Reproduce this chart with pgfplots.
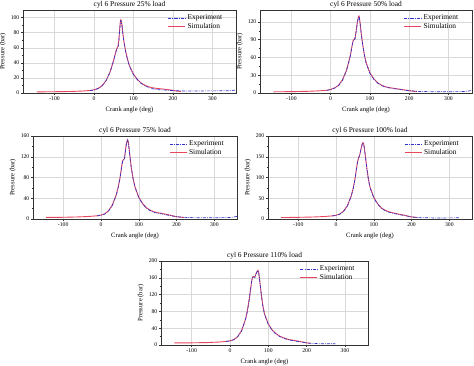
\documentclass[border=0pt]{standalone}
\usepackage{pgfplots}
\pgfplotsset{compat=1.18}
\usepackage{fontspec}
\setmainfont{Liberation Serif}
\definecolor{simred}{RGB}{232,72,95}
\definecolor{expblue}{RGB}{50,50,200}
\pgfplotsset{
  cylax/.style={
    scale only axis,
    anchor=north west,
    xmin=-180, xmax=360, ymin=0,
    xtick={-100,0,100,200,300},
    minor x tick num=1, minor y tick num=1,
    grid=major,
    major grid style={gray!30, line width=0.4pt},
    axis line style={black!80, line width=0.5pt},
    tick align=outside, tick pos=left,
    major tick length=2pt, minor tick length=1.2pt,
    tick style={black!80, line width=0.4pt},
    /pgf/number format/assume math mode=true,
    ticklabel style={font=\fontsize{5.7}{6}\selectfont, inner sep=1.5pt},
    label style={font=\fontsize{6.6}{7}\selectfont},
    title style={font=\fontsize{7.4}{8}\selectfont, inner sep=1pt, yshift=-5pt},
    xlabel={Crank angle (deg)},
    ylabel={Pressure (bar)},
    xlabel style={yshift=-1pt},
    ylabel style={yshift=0pt},
    legend style={draw=none, fill=none, font=\fontsize{7.4}{8}\selectfont,
      at={(0.95,0.98)}, anchor=north east, row sep=-2pt, inner sep=1pt},
    legend cell align=left,
  },
  expst/.style={color=expblue, line width=0.7pt, dash pattern=on 3pt off 1.2pt on 0.8pt off 1.2pt},
  simst/.style={color=simred, line width=0.9pt},
}
\begin{document}
\begin{tikzpicture}
\useasboundingbox (0pt,0pt) rectangle (474pt,-366pt);
% ---------------- 25% ----------------
\begin{axis}[cylax, at={(23pt,-10pt)}, width=213pt, height=83pt,
  ymax=110, ytick={0,20,40,60,80,100},
  title={cyl 6 Pressure 25\% load}]
\addlegendimage{color=expblue, line width=0.7pt, dash pattern=on 3pt off 1.2pt on 0.8pt off 1.2pt}\addlegendentry{Experiment}
\addlegendimage{color=simred, line width=0.9pt}\addlegendentry{Simulation}
\addplot[simst, forget plot] coordinates {
(-145,1.5) (-100,1.7) (-60,2.0) (-30,2.6) (-10,3.3) (0,4.2) (10,6) (20,9.5) (30,16) (40,27) (45,35) (50,44) (55,54) (58,59) (61,62) (63,70) (65,84) (67,95) (68,97) (69,96) (71,90) (73,80) (76,68) (80,56) (85,45) (90,36) (100,25) (110,18) (120,13) (130,10) (140,8) (150,6.8) (160,6) (170,5.5) (180,5) (190,4.3) (200,3.5) (210,2.6) (220,2)};
\addplot[expst, forget plot] coordinates {
(-10,3.2) (0,4.0) (10,5.8) (20,9.2) (30,15.5) (40,26.5) (45,34.5) (50,43.5) (55,53.5) (58,58.5) (61,61.5) (63,69) (65,83) (67,94) (68,96) (69,95) (71,89) (73,79) (76,67) (80,55) (85,44) (90,35) (100,24.5) (110,17.5) (120,12.5) (130,9.5) (140,7) (150,5.5) (160,4.5) (180,3.8) (200,3.2) (220,2.8) (240,2.7) (260,2.7) (280,2.8) (300,2.8) (320,2.9) (340,3.0) (355,3.6) (360,4)};
\end{axis}
% ---------------- 50% ----------------
\begin{axis}[cylax, at={(260pt,-10pt)}, width=212pt, height=83pt,
  ymax=140, ytick={0,30,60,90,120},
  title={cyl 6 Pressure 50\% load}]
\addlegendimage{color=expblue, line width=0.7pt, dash pattern=on 3pt off 1.2pt on 0.8pt off 1.2pt}\addlegendentry{Experiment}
\addlegendimage{color=simred, line width=0.9pt}\addlegendentry{Simulation}
\addplot[simst, forget plot] coordinates {
(-145,2) (-100,2.3) (-60,2.8) (-30,3.6) (-10,4.6) (0,6) (10,8.5) (20,13) (30,22) (40,38) (45,50) (50,63) (54,78) (57,88) (60,91) (62,92) (65,105) (68,120) (71,129) (72,130) (73,128) (75,118) (78,100) (82,80) (86,64) (90,52) (100,34) (110,24) (120,17) (130,13) (140,10.5) (150,9) (160,8) (170,7) (180,6) (190,5) (200,4) (210,3) (220,2.5)};
\addplot[expst, forget plot] coordinates {
(-10,4.5) (0,5.8) (10,8.2) (20,12.5) (30,21.5) (40,37) (45,49) (50,62) (54,77) (57,87) (60,90) (62,91) (65,104) (68,119) (71,128) (72,129) (73,127) (75,117) (78,99) (82,79) (86,63) (90,51) (100,33) (110,23) (120,16.5) (130,12.5) (140,10) (150,8.5) (160,7.5) (170,6.5) (180,5.5) (200,3.8) (220,2.8) (240,2.4) (260,2.2) (280,2.2) (300,2.2) (320,2.3) (340,2.5) (350,3.2) (360,4.5)};
\end{axis}
% ---------------- 75% ----------------
\begin{axis}[cylax, at={(33pt,-136pt)}, width=204pt, height=83pt,
  ymax=160, ytick={0,40,80,120,160},
  title={cyl 6 Pressure 75\% load}]
\addlegendimage{color=expblue, line width=0.7pt, dash pattern=on 3pt off 1.2pt on 0.8pt off 1.2pt}\addlegendentry{Experiment}
\addlegendimage{color=simred, line width=0.9pt}\addlegendentry{Simulation}
\addplot[simst, forget plot] coordinates {
(-145,3) (-100,3.3) (-60,4) (-30,5) (-10,6.2) (0,7.5) (10,10) (20,16) (30,27) (40,46) (45,60) (50,78) (54,98) (57,112) (60,115) (62,116) (64,128) (67,145) (70,153) (71,152) (73,145) (76,125) (80,100) (85,78) (90,62) (100,42) (110,30) (120,22) (130,17) (140,14) (150,12) (160,11) (170,9.5) (180,8) (190,6) (200,4.5) (210,3.5) (220,3)};
\addplot[expst, forget plot] coordinates {
(-10,6) (0,7.2) (10,9.6) (20,15.5) (30,26) (40,45) (45,59) (50,77) (54,97) (57,111) (60,114) (62,115) (64,127) (67,144) (70,152) (71,151) (73,144) (76,124) (80,99) (85,77) (90,61) (100,41) (110,29) (120,21) (130,16) (140,13) (150,11) (160,10) (170,8.5) (180,7) (200,4.5) (220,3.2) (240,2.7) (260,2.5) (280,2.5) (300,2.5) (320,2.6) (340,2.9) (350,3.8) (360,5)};
\end{axis}
% ---------------- 100% ----------------
\begin{axis}[cylax, at={(268pt,-136pt)}, width=204pt, height=83pt,
  ymax=200, ytick={0,50,100,150,200},
  title={cyl 6 Pressure 100\% load}]
\addlegendimage{color=expblue, line width=0.7pt, dash pattern=on 3pt off 1.2pt on 0.8pt off 1.2pt}\addlegendentry{Experiment}
\addlegendimage{color=simred, line width=0.9pt}\addlegendentry{Simulation}
\addplot[simst, forget plot] coordinates {
(-145,3.5) (-100,4) (-60,4.8) (-30,6) (-10,7.5) (0,9) (10,12) (20,19) (30,32) (40,55) (45,72) (50,95) (54,120) (57,138) (60,148) (63,155) (66,168) (69,180) (71,184) (73,182) (75,172) (78,150) (82,120) (86,95) (90,77) (100,52) (110,37) (120,27) (130,21) (140,17.5) (150,15) (160,13) (170,11) (180,9.5) (190,7) (200,5) (210,4) (215,3.5)};
\addplot[expst, forget plot] coordinates {
(-10,7.3) (0,8.7) (10,11.5) (20,18.5) (30,31) (40,54) (45,71) (50,94) (54,119) (57,137) (60,147) (63,154) (66,167) (69,179) (71,183) (73,181) (75,171) (78,149) (82,119) (86,94) (90,76) (100,51) (110,36) (120,26) (130,20) (140,16.5) (150,14) (160,12) (170,10) (180,8.5) (200,5) (220,3.3) (240,2.8) (260,2.6) (280,2.6) (300,2.7) (320,2.8) (325,3)};
\end{axis}
% ---------------- 110% ----------------
\begin{axis}[cylax, at={(161pt,-261pt)}, width=207pt, height=84pt,
  ymax=200, ytick={0,40,80,120,160,200},
  title={cyl 6 Pressure 110\% load}]
\addlegendimage{color=expblue, line width=0.7pt, dash pattern=on 3pt off 1.2pt on 0.8pt off 1.2pt}\addlegendentry{Experiment}
\addlegendimage{color=simred, line width=0.9pt}\addlegendentry{Simulation}
\addplot[simst, forget plot] coordinates {
(-145,5) (-100,5.2) (-60,5.8) (-30,7) (-10,8.5) (0,10) (10,13) (20,20) (30,34) (40,60) (45,80) (50,108) (54,135) (57,155) (59,162) (62,163) (65,162) (68,170) (71,176) (73,178) (75,172) (78,150) (82,118) (86,92) (90,74) (100,50) (110,36) (120,27) (130,21) (140,17) (150,14) (160,12) (170,10.5) (180,9) (190,7) (200,5) (210,4)};
\addplot[expst, forget plot] coordinates {
(-10,8.3) (0,9.7) (10,12.5) (20,19.5) (30,33) (40,59) (45,79) (50,107) (54,134) (57,154) (59,161) (62,162) (65,161) (68,169) (71,175) (73,177) (75,171) (78,149) (82,117) (86,91) (90,73) (100,49) (110,35) (120,26) (130,20) (140,16) (150,13) (160,11) (170,9.5) (180,8) (200,5) (220,3.5) (240,3) (260,3) (275,3.2)};
\end{axis}
\end{tikzpicture}
\end{document}
